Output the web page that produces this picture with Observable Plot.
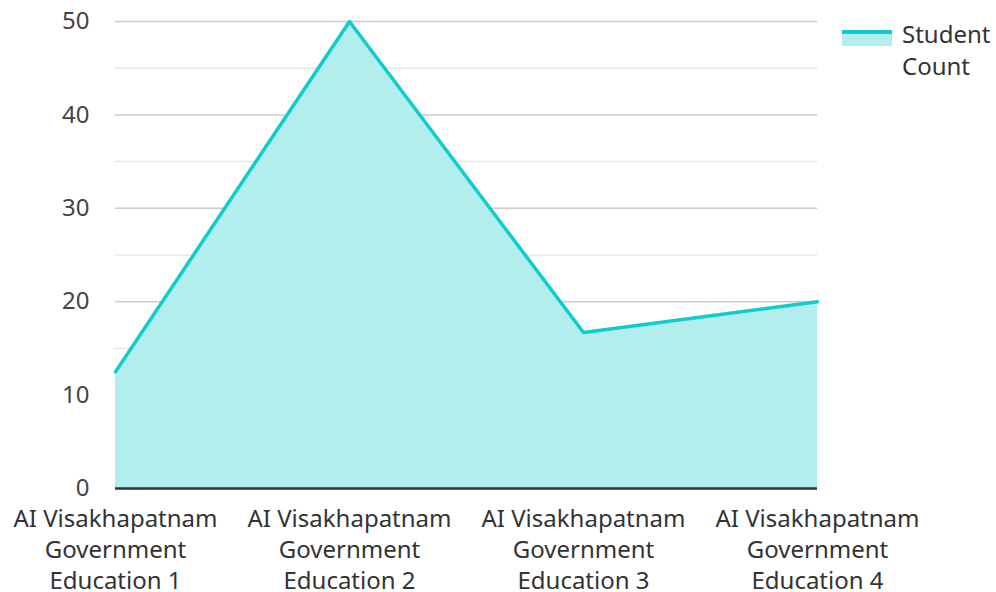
<!DOCTYPE html>
<html>
<head>
<meta charset="utf-8">
<script src="https://cdn.jsdelivr.net/npm/d3@7"></script>
<script src="https://cdn.jsdelivr.net/npm/@observablehq/plot@0.6"></script>
<style>
  html, body { margin: 0; padding: 0; background: #fff; }
  #wrap { position: relative; width: 996px; height: 592px; font-family: "Noto Sans", sans-serif; }
  #legend { position: absolute; left: 842px; top: 18px; display: flex; align-items: flex-start; font-size: 24px; color: #333; line-height: 32px; }
  #legend .sw { width: 50px; height: 16px; margin-top: 12px; margin-right: 10px; background: #b2eeee; border-top: 4px solid #11cccc; box-sizing: border-box; }
</style>
</head>
<body>
<div id="wrap"><div id="legend"><div class="sw"></div><div>Student<br>Count</div></div></div>
<script>
const categories = [
  "AI Visakhapatnam Government Education 1",
  "AI Visakhapatnam Government Education 2",
  "AI Visakhapatnam Government Education 3",
  "AI Visakhapatnam Government Education 4"
];
const studentCount = [12.5, 50, 16.7, 20];
const yTicks = [0, 10, 20, 30, 40, 50];
const yMinorTicks = [5, 15, 25, 35, 45];
const xLabels = [
  "AI Visakhapatnam\nGovernment\nEducation 1",
  "AI Visakhapatnam\nGovernment\nEducation 2",
  "AI Visakhapatnam\nGovernment\nEducation 3",
  "AI Visakhapatnam\nGovernment\nEducation 4"
];

const data = categories.map((c, i) => ({cat: c, value: studentCount[i]}));
const labelOf = new Map(categories.map((c, i) => [c, xLabels[i]]));

const chart = Plot.plot({
  width: 996,
  height: 592,
  marginLeft: 115,
  marginRight: 179,
  marginTop: 21,
  marginBottom: 104,
  style: {fontFamily: "'Noto Sans', sans-serif", color: "#444", background: "transparent"},
  x: {type: "point", domain: categories, padding: 0},
  y: {domain: [0, 50]},
  marks: [
    Plot.gridY(yMinorTicks, {stroke: "#e6e6e6", strokeOpacity: 1, strokeWidth: 1.5}),
    Plot.gridY(yTicks.filter(d => d > 0), {stroke: "#cccccc", strokeOpacity: 1, strokeWidth: 1.5}),
    Plot.areaY(data, {x: "cat", y: "value", fill: "#b2eeee", fillOpacity: 1}),
    Plot.lineY(data, {x: "cat", y: "value", stroke: "#11cccc", strokeWidth: 3.5}),
    Plot.ruleY([0], {stroke: "#333", strokeWidth: 2.5}),
    Plot.axisY({ticks: yTicks, tickSize: 0, tickPadding: 26, fontSize: 24, label: null, fill: "#444"}),
    Plot.axisX({tickSize: 0, tickPadding: 17, fontSize: 24, lineHeight: 1.29, label: null, fill: "#333",
      tickFormat: d => labelOf.get(d)})
  ]
});
document.getElementById("wrap").prepend(chart);
chart.style.position = "absolute";
chart.style.left = "0";
chart.style.top = "0";
</script>
</body>
</html>
